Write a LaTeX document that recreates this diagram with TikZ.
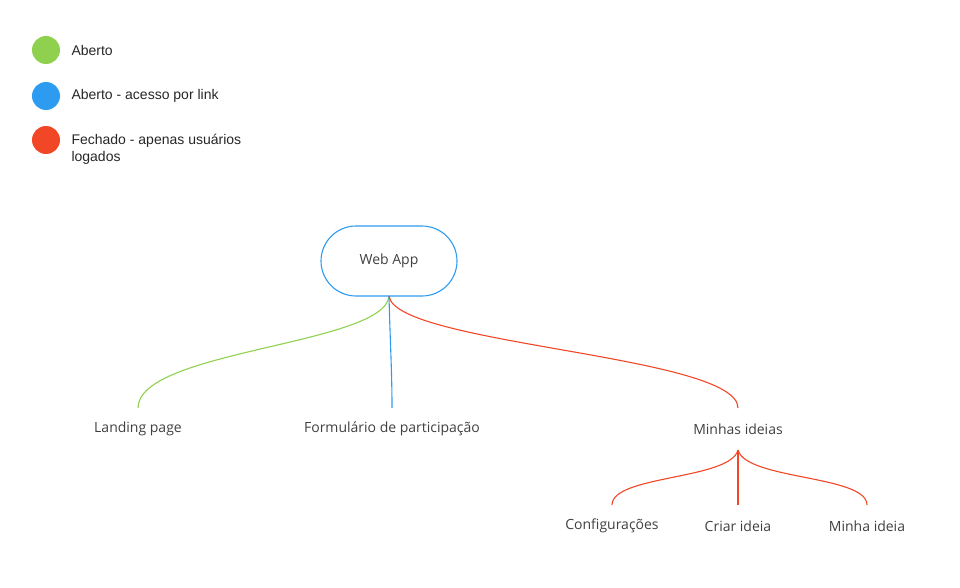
\documentclass[tikz,border=0pt]{standalone}
\usepackage{fontspec}
\setmainfont{Open Sans}
\newfontfamily\legfont{Liberation Sans}
\begin{document}
\begin{tikzpicture}[x=1pt,y=-1pt,
  leg/.style={circle,minimum size=28pt,inner sep=0pt},
  legtxt/.style={anchor=west,font=\legfont\fontsize{14}{17}\selectfont,text=black!85,align=left},
  lbl/.style={font=\fontsize{14}{17}\selectfont,text=black!75,inner sep=0pt},
  con/.style={line width=1.1pt}]
\definecolor{cg}{HTML}{8FD14F}
\definecolor{cb}{HTML}{2D9BF0}
\definecolor{cr}{HTML}{F24726}
\useasboundingbox (0,0) rectangle (960,588);
\node[leg,fill=cg] (l1) at (46,50) {};
\node[leg,fill=cb] (l2) at (46,96) {};
\node[leg,fill=cr] (l3) at (46,140) {};
\node[legtxt] (t1) at (68,50) {Aberto};
\node[legtxt] (t2) at (68,96) {Aberto - acesso por link};
\node[legtxt,anchor=north west] (t3) at (68,131) {Fechado - apenas usuários\\logados};
\node[draw=cb,line width=1.1pt,rounded corners=35pt,minimum width=136pt,minimum height=70pt,lbl] (w) at (389,261) {Web App};
\coordinate (wb) at (389,296);
\coordinate (a1) at (138,408);
\coordinate (a2) at (392,408);
\coordinate (a3) at (738,408);
\node[lbl] (n1) at (138,429) {Landing page};
\node[lbl] (n2) at (392,429) {Formulário de participação};
\node[lbl] (n3) at (738,429) {Minhas ideias};
\draw[con,cg] (wb) .. controls (385,345) and (138,350) .. (a1);
\draw[con,cb] (wb) .. controls (390,340) and (392,370) .. (a2);
\draw[con,cr] (wb) .. controls (395,345) and (738,355) .. (a3);
\coordinate (mb) at (738,450);
\coordinate (b1) at (612,505);
\coordinate (b2) at (738,505);
\coordinate (b3) at (867,505);
\node[lbl] (m1) at (612,526) {Configurações};
\node[lbl] (m2) at (738,526) {Criar ideia};
\node[lbl] (m3) at (867,526) {Minha ideia};
\draw[con,cr] (mb) .. controls (730,480) and (612,475) .. (b1);
\draw[con,cr] (mb) .. controls (738,470) and (738,490) .. (b2);
\draw[con,cr] (mb) .. controls (746,480) and (867,475) .. (b3);
\end{tikzpicture}
\end{document}
